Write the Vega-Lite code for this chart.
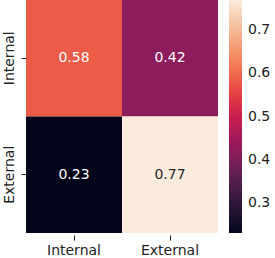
{
  "$schema": "https://vega.github.io/schema/vega-lite/v6.json",
  "autosize": "none",
  "width": 192,
  "height": 233,
  "padding": {"left": 26, "top": 0, "right": 57, "bottom": 25},
  "background": "white",
  "config": {
    "font": "DejaVu Sans",
    "view": {"stroke": null},
    "axis": {"domain": false, "grid": false, "tickColor": "#222", "labelColor": "#222", "labelFontSize": 14, "tickSize": 5, "tickWidth": 1, "labelPadding": 3}
  },
  "data": {
    "values": [
      {"actual": "Internal", "predicted": "Internal", "value": 0.58},
      {"actual": "Internal", "predicted": "External", "value": 0.42},
      {"actual": "External", "predicted": "Internal", "value": 0.23},
      {"actual": "External", "predicted": "External", "value": 0.77}
    ]
  },
  "encoding": {
    "x": {"field": "predicted", "type": "nominal", "sort": ["Internal", "External"], "title": null,
          "scale": {"paddingInner": 0, "paddingOuter": 0},
          "axis": {"labelAngle": 0, "offset": 2}},
    "y": {"field": "actual", "type": "nominal", "sort": ["Internal", "External"], "title": null,
          "scale": {"paddingInner": 0, "paddingOuter": 0},
          "axis": {"labelAngle": -90, "labelAlign": "center", "labelBaseline": "bottom", "labelPadding": 5}}
  },
  "layer": [
    {
      "mark": {"type": "rect"},
      "encoding": {
        "color": {
          "field": "value", "type": "quantitative",
          "scale": {
            "type": "linear",
            "domain": [0.23, 0.30714, 0.38429, 0.46143, 0.53857, 0.61571, 0.69286, 0.77],
            "range": ["#03051a", "#35193e", "#701f57", "#ad1759", "#e13342", "#f37651", "#f6b48f", "#faebdd"]
          },
          "legend": {
            "title": null, "orient": "right", "offset": 11,
            "gradientLength": 233, "gradientThickness": 13,
            "values": [0.3, 0.4, 0.5, 0.6, 0.7], "format": ".1f",
            "labelFontSize": 14, "labelColor": "#222", "labelOffset": 6,
            "gradientStrokeWidth": 0, "padding": 0
          }
        }
      }
    },
    {
      "mark": {"type": "text", "fontSize": 14},
      "encoding": {
        "text": {"field": "value", "type": "quantitative", "format": ".2f"},
        "color": {
          "condition": {"test": "datum.value > 0.7", "value": "#262626"},
          "value": "white"
        }
      }
    }
  ]
}
